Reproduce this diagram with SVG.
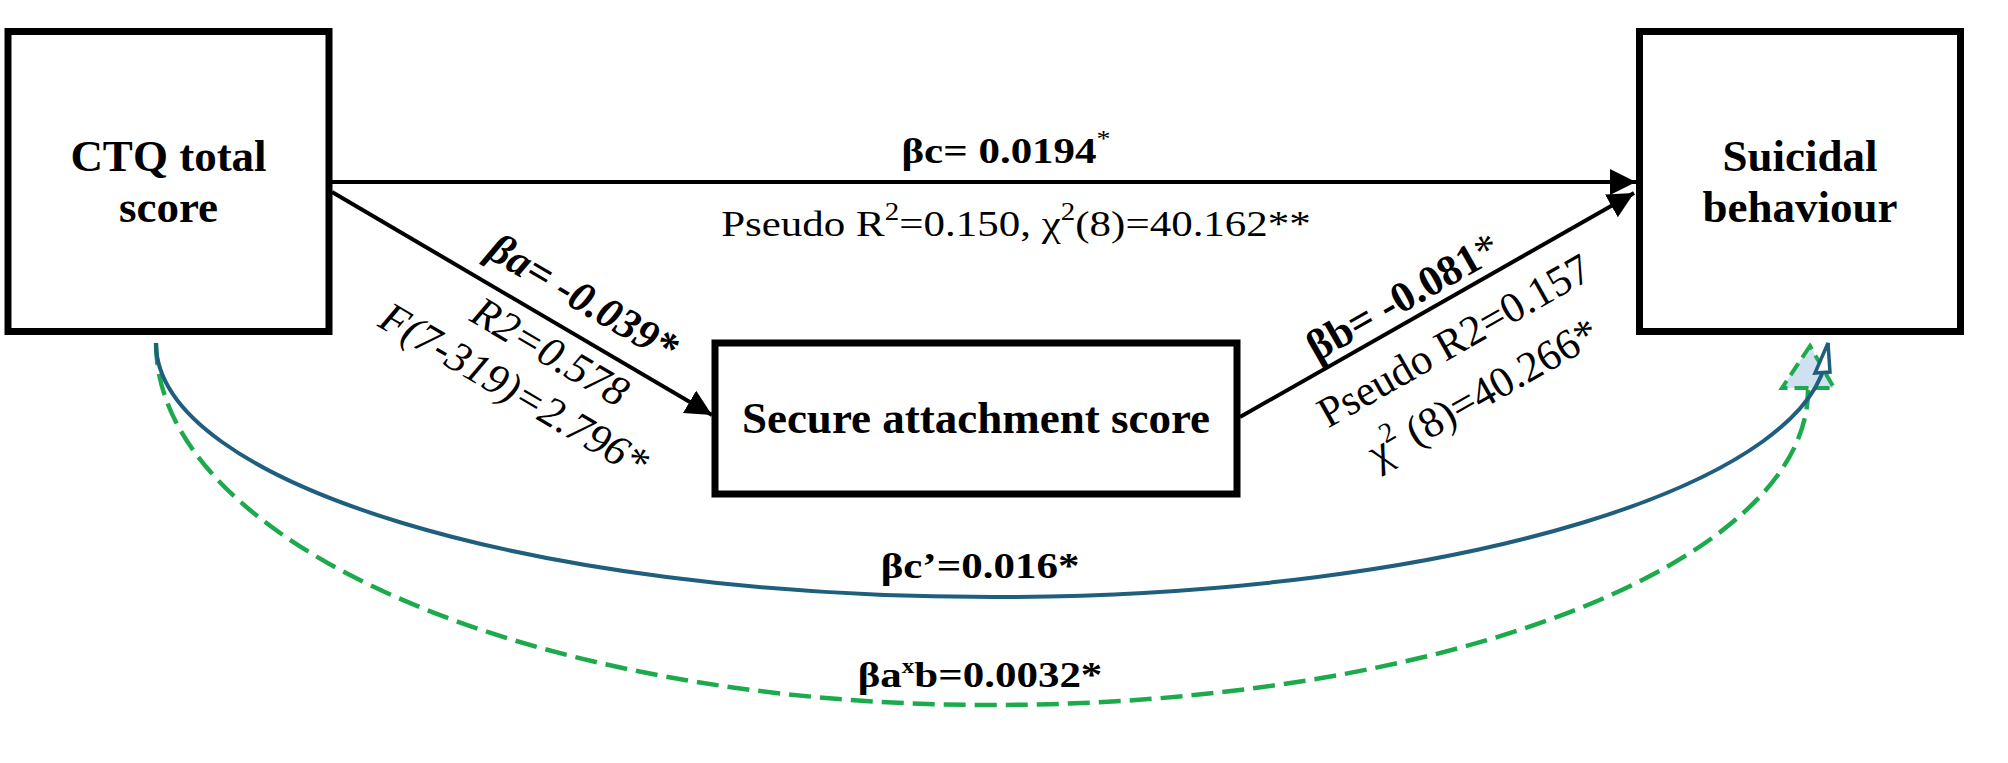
<svg xmlns="http://www.w3.org/2000/svg" width="2008" height="763" viewBox="0 0 2008 763">
<defs>
<style>
.box{fill:#fff;stroke:#000;stroke-width:7}
.node{font-family:"Liberation Serif","Times New Roman",serif;font-weight:bold;font-size:45px;fill:#000}
.lbl{font-family:"Liberation Serif","Times New Roman",serif;font-size:43px;fill:#000}
.b{font-weight:bold}
.edge{stroke:#000;stroke-width:4;fill:none}
.blue{stroke:#1F5E7D;stroke-width:4;fill:none}
.green{stroke:#1DAA4D;stroke-width:4.5;fill:none;stroke-dasharray:22 9}
</style>
<marker id="ah" markerUnits="userSpaceOnUse" markerWidth="28" markerHeight="28" refX="26" refY="13" orient="auto">
<path d="M0,0 L26,13 L0,26 Z" fill="#000"/>
</marker>
</defs>
<rect width="2008" height="763" fill="#fff"/>

<g id="connectors">
<g id="edge-c">
<line class="edge" x1="332" y1="182" x2="1636" y2="182" marker-end="url(#ah)"/>
<text class="lbl b" text-anchor="middle" font-size="44" transform="translate(1006,163) scale(1,0.85)">βc= 0.0194<tspan font-weight="normal" font-size="28" dy="-20">*</tspan></text>
<text class="lbl" text-anchor="middle" font-size="46.5" transform="translate(1016,236) scale(1,0.85)">Pseudo R<tspan font-size="29" dy="-19">2</tspan><tspan dy="19">=0.150, χ</tspan><tspan font-size="29" dy="-19">2</tspan><tspan dy="19">(8)=40.162**</tspan></text>
</g>
<g id="edge-a">
<line class="edge" x1="332" y1="192" x2="712" y2="415" marker-end="url(#ah)"/>
<text class="lbl b" font-style="italic" font-size="45" text-anchor="middle" transform="translate(576,310) rotate(30.4)">βa= -0.039*</text>
<text class="lbl" font-style="italic" text-anchor="middle" transform="translate(543,364) rotate(30.4)">R2=0.578</text>
<text class="lbl" font-style="italic" font-size="41" text-anchor="middle" transform="translate(507,402) rotate(30.4)">F(7-319)=2.796*</text>
</g>
<g id="edge-b">
<line class="edge" x1="1240" y1="417" x2="1634" y2="193" marker-end="url(#ah)"/>
<text class="lbl" text-anchor="middle" font-size="46" transform="translate(1410,309) rotate(-29.6)"><tspan font-weight="bold">βb= -0.081</tspan>*</text>
<text class="lbl" text-anchor="middle" transform="translate(1461,353) rotate(-29.6)">Pseudo R2=0.157</text>
<text class="lbl" text-anchor="middle" font-size="45" transform="translate(1490,405) rotate(-29.6)">χ<tspan font-size="28" dy="-18">2</tspan><tspan dy="18"> (8)=40.266*</tspan></text>
</g>
<g id="edge-indirect">
<path class="green" d="M156,343 C156,543 530,705 990,705 C1441,705 1808,564 1808,390"/>
<polygon points="1810,346 1782,388 1834,388" fill="#CFE0F1" stroke="#1DAA4D" stroke-width="4" stroke-dasharray="14 7"/>
<text class="lbl b" text-anchor="middle" font-size="41" transform="translate(980,687) scale(1,0.85)">βa<tspan font-size="25" dy="-16">x</tspan><tspan dy="16">b=0.0032*</tspan></text>
</g>
<g id="edge-direct">
<path class="blue" d="M156,343 C156,483 530,597 992,597 C1454,597 1828,483 1828,343"/>
<polygon points="1828,343 1815,373 1830,372" fill="#fff" stroke="#1F5E7D" stroke-width="3.5"/>
<text class="lbl b" text-anchor="middle" font-size="40" transform="translate(980,578) scale(1,0.85)">βc’=0.016*</text>
</g>
</g>

<g id="node-ctq">
<rect class="box" x="8" y="31.5" width="321" height="300"/>
<text class="node" x="168.5" y="171" text-anchor="middle">CTQ total</text>
<text class="node" x="168.5" y="222" text-anchor="middle">score</text>
</g>
<g id="node-secure">
<rect class="box" x="715" y="343" width="522" height="151" stroke-width="6"/>
<text class="node" x="976" y="433" text-anchor="middle">Secure attachment score</text>
</g>
<g id="node-suicidal">
<rect class="box" x="1639.5" y="31.5" width="321" height="300"/>
<text class="node" x="1800" y="171" text-anchor="middle">Suicidal</text>
<text class="node" x="1800" y="222" text-anchor="middle">behaviour</text>
</g>
</svg>
